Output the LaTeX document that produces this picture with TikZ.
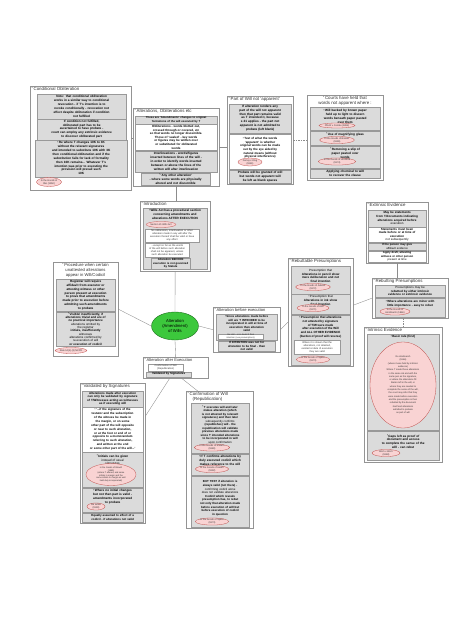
\documentclass[tikz,border=0pt]{standalone}
\usepackage{fontspec}
\setmainfont{Liberation Sans}
\usetikzlibrary{shapes.geometric}
\definecolor{pinkf}{HTML}{F9D3D3}
\definecolor{pinkd}{HTML}{C0504D}
\definecolor{grnf}{HTML}{3CC83C}
\definecolor{grnd}{HTML}{1E6E1E}
\newcommand{\ttlmark}{\raisebox{0.9pt}{\fontsize{3}{3}\selectfont *}\,}
\newcommand{\bmark}{\raisebox{0.5pt}{\fontsize{2.4}{2.4}\selectfont *}\,}
\begin{document}
\begin{tikzpicture}[x=1pt,y=-1pt,
  grp/.style={draw=black!42, fill=white, line width=0.35pt, anchor=north west, inner sep=0pt},
  ttl/.style={anchor=north west, inner sep=0pt, font=\fontsize{4.4}{5}\selectfont, text=black!80, align=left},
  gb/.style={draw=black!40, fill=black!14, line width=0.3pt, anchor=north west, inner sep=0.5pt, align=center, font=\fontsize{3.1}{3.9}\selectfont\bfseries},
  wb/.style={draw=black!40, fill=white, line width=0.3pt, anchor=north west, inner sep=0.5pt, align=center, font=\fontsize{2.5}{3}\selectfont, text=black!80},
  pe/.style={ellipse, draw=pinkd, fill=pinkf, line width=0.3pt, inner sep=0pt, align=center, font=\fontsize{2.4}{2.8}\selectfont, text=black!80},
  txt/.style={anchor=north, inner sep=0pt, align=center, font=\fontsize{3}{3.7}\selectfont\bfseries},
  cn/.style={draw=black!45, line width=0.35pt},
]
\useasboundingbox (0,0) rectangle (474,632);

% ---------- Conditional Obliteration
\node[grp, minimum width=101, minimum height=104] (CO) at (30,86) {};
\node[ttl] (COt) at (31.5,87.5) {\ttlmark Conditional Obliteration};
\node[gb, text width=88pt, minimum height=25] (CO1) at (37,93.5) {Note: that conditional obliteration\\works in a similar way to conditional\\revocation - if T's intention is to\\revoke conditionally - revocation not\\effect despite obliteration if condition\\not fulfilled};
\node[gb, text width=88pt, minimum height=21] (CO2) at (37,118.5) {If condition not fulfilled,\\obliterated part has to be\\ascertained to have probate -\\court can employ any extrinsic evidence\\to discover obliterated part};
\node[gb, text width=91pt, minimum height=37] (CO3) at (35,139.5) {\bmark Re where T changes 10K to 3K\\without the relevant signatures\\and intended to substitute 10K with 3K\\then conditional obliteration and if the\\substitution fails for lack of formality\\then 10K remains... Whatever T's\\intention was prior to executing the\\provision will prevail such\\10K};
\node[pe, minimum width=25, minimum height=9] (CO4) at (49,182) {In the Goods of\\Itter (1950)};

% ---------- Alterations, Obliterations etc
\node[grp, minimum width=86, minimum height=78] (AL) at (133,108) {};
\node[ttl] (ALt) at (134.5,109.5) {\ttlmark Alterations, Obliterations etc};
\node[gb, text width=81pt, minimum height=8, font=\fontsize{2.8}{3.4}\selectfont\bfseries] (AL1) at (135,115.5) {These are `Amendments' changes to original\\formations of the will executed by T};
\node[gb, fill=white, text width=81pt, minimum height=26, font=\fontsize{3}{3.6}\selectfont\bfseries] (AL2) at (135,124) {Obliterations - words blotted out,\\crossed through or covered, etc\\so that words no longer discernible.\\Those of `sealed' - key words\\or figures may be written over\\or substituted for obliterated\\words};
\node[gb, text width=81pt, minimum height=21] (AL3) at (135,151) {Interlineations - words/figures\\inserted between lines of the will -\\in order to identify words inserted\\between or above the lines of the\\written will after interlineation};
\node[gb, text width=68pt, minimum height=12] (AL4) at (141,173) {\bmark`Any other alteration'\\- where some words are physically\\altered and not discernible};

% ---------- Part of Will not apparent
\node[grp, minimum width=66, minimum height=88] (PW) at (227,96) {};
\node[ttl] (PWt) at (228.5,97.5) {\ttlmark Part of Will not `apparent'};
\node[gb, text width=61pt, minimum height=29] (PW1) at (229,103.5) {If alteration renders any\\part of the will not apparent\\then that part remains valid\\as T intended it, because\\s 21 applies - the part not\\apparent is not admitted to\\probate (left blank)};
\node[gb, fill=white, text width=61pt, minimum height=35, font=\fontsize{3}{3.6}\selectfont\bfseries] (PW2) at (229,133.5) {\bmark Test of what the words\\`apparent' is whether\\original words can be made\\out by the eye aided by\\natural means (without\\physical interference)\\~\\~};
\node[pe, minimum width=24, minimum height=8] (PW2e) at (250,162) {Ferrey v King\\(1861)};
\node[gb, text width=61pt, minimum height=13] (PW3) at (229,170) {Probate will be granted of will\\but words not apparent will\\be left as blank spaces};

% ---------- Courts have held
\node[grp, minimum width=76, minimum height=85] (CT) at (307,95) {};
\node[ttl, anchor=north, align=center] (CTt) at (345,96.5) {\ttlmark Courts have held that\\words not apparent where :};
\node[gb, text width=69pt, minimum height=23] (CT1) at (310,107) {\bmark Will backed by brown paper\\held up to light to discern\\words beneath paper pasted\\over them\\~};
\node[pe, minimum width=36, minimum height=5] (CT1e) at (337,125.5) {Ffinch v Combe (1894)};
\node[gb, text width=69pt, minimum height=14] (CT2) at (310,131) {\bmark Use of magnifying glass\\~\\~};
\node[pe, minimum width=34, minimum height=7] (CT2e) at (337,140) {In the Goods of Brasier\\(1899)};
\node[gb, text width=69pt, minimum height=22] (CT3) at (310,146) {\bmark Removing a slip of\\paper pasted over\\words\\~\\~};
\node[pe, minimum width=36, minimum height=7] (CT3e) at (337,161.5) {In the Goods of Horsford\\(1874)};
\node[gb, text width=69pt, minimum height=9] (CT4) at (310,169) {Applying chemical to will\\to recover the clause};

% ---------- Introduction
\node[grp, minimum width=70, minimum height=70] (IN) at (140,201) {};
\node[ttl] (INt) at (141.5,202.5) {\ttlmark Introduction};
\node[gb, text width=63pt, minimum height=61] (INb) at (143,208) {};
\node[txt, font=\fontsize{3.1}{3.9}\selectfont\bfseries] (IN1) at (175,209.5) {\bmark Wills Act has a procedural section\\concerning amendments and\\alterations AFTER EXECUTION};
\node[pe, minimum width=30, minimum height=6] (IN1e) at (161,224.5) {Section 21 Wills Act};
\node[wb, text width=53pt, minimum height=12.5] (IN2) at (145,229) {No obliteration, interlineation or other\\alteration made in any will after the\\execution thereof shall be valid or have\\any effect};
\node[wb, text width=43pt, minimum height=13.5] (IN3) at (145,243) {...except so far as the words\\of the will before such alteration\\shall not be apparent, unless\\such alteration be executed};
\node[gb, text width=38pt, minimum height=10.5, font=\fontsize{2.8}{3.2}\selectfont\bfseries] (IN4) at (151,258) {Alteration BEFORE\\execution is not governed\\by Statute};

% ---------- centre
\node[ellipse, draw=grnd, fill=grnf, line width=0.4pt, minimum width=47, minimum height=28, inner sep=0pt, align=center, font=\fontsize{4.2}{4.8}\selectfont] (CE) at (175,326) {Alteration\\(Amendment)\\of Wills};

% ---------- Procedure
\node[grp, minimum width=65, minimum height=94] (PR) at (53,262) {};
\node[ttl, anchor=north, align=center, font=\fontsize{4.2}{4.9}\selectfont] (PRt) at (85.5,263) {\ttlmark Procedure when certain\\unattested alterations\\appear in Will/Codicil};
\node[gb, text width=58pt, minimum height=32] (PR1) at (56,279) {Registrar will require\\affidavit from executor or\\attesting witness or other\\person present at execution\\to prove that amendments\\made prior to execution before\\admitting such amendments\\to probate};
\node[gb, text width=58pt, minimum height=34, font=\fontsize{3}{3.3}\selectfont\bfseries] (PR2) at (56,312) {\bmark Visible/ insufficiently, if\\alterations trivial and are of\\no practical importance\\{\mdseries alterations omitted by}\\{\mdseries the registrar}\\initials, insufficiently\\{\mdseries witnesses}\\{\mdseries alterations confirmed by}\\{\mdseries re-execution of will}\\or execution of codicil};
\node[pe, minimum width=28, minimum height=6] (PRe) at (71,350.5) {Rule 14(1)-(3) NCPR};

% ---------- Alteration before execution
\node[grp, minimum width=67, minimum height=45] (AB) at (213,307) {};
\node[ttl, font=\fontsize{4.1}{4.6}\selectfont] (ABt) at (214.5,308.5) {\ttlmark Alteration before execution};
\node[gb, text width=60pt, minimum height=26, font=\fontsize{2.9}{3.5}\selectfont\bfseries] (AB1) at (216,314) {\bmark Since alterations made before\\will are T INTENDED to be\\incorporated in will at time of\\execution then alteration\\valid\\~\\~};
\node[wb, text width=44pt, minimum height=5.5, font=\fontsize{2.2}{2.5}\selectfont] (AB1w) at (218,333.5) {Re Hall - or in doubt if final\\intention (see presumptions)};
\node[gb, text width=56pt, minimum height=10, font=\fontsize{2.9}{3.2}\selectfont\bfseries] (AB2) at (218,341) {If INTENTION was not for\\alteration to be final - then\\not valid};

% ---------- Alteration after Execution
\node[grp, minimum width=65, minimum height=21] (AA) at (143,357) {};
\node[ttl, font=\fontsize{4.1}{4.6}\selectfont] (AAt) at (144.5,358) {\ttlmark Alteration after Execution};
\node[wb, text width=34pt, minimum height=7, font=\fontsize{2.5}{2.9}\selectfont] (AA1) at (148,363.5) {Confirmation of Will\\(Republication)};
\node[gb, text width=44pt, minimum height=5, font=\fontsize{2.9}{3.2}\selectfont\bfseries] (AA2) at (146,371.5) {Validated by Signatures};

% ---------- Validated by Signatures
\node[grp, minimum width=65, minimum height=140] (VS) at (80,383) {};
\node[ttl] (VSt) at (81.5,384.5) {\ttlmark Validated by Signatures};
\node[gb, text width=60pt, minimum height=16, font=\fontsize{3}{3.6}\selectfont\bfseries] (VS1) at (82,390.5) {Alterations made after execution\\can only be validated by signature\\of T/Witnesses acting as witnesses\\as if executing will};
\node[gb, fill=white, text width=60pt, minimum height=44.5, font=\fontsize{3}{3.9}\selectfont\bfseries] (VS2) at (82,407) {\bmark`...if the signature of the\\testator and the subscription\\of the witness be made in\\the margin, or on some\\other part of the will opposite\\or near to such alteration,\\or at the foot or end of or\\opposite to a memorandum\\referring to such alteration,\\and written at the end\\or some other part of the will...'};
\node[gb, text width=60pt, minimum height=35] (VS3) at (82,452) {\bmark Initials can be given\\{\mdseries instead of usual}\\{\mdseries signatures}\\~\\~\\~\\~\\~};
\node[pe, minimum width=50, minimum height=22, font=\fontsize{2.2}{2.6}\selectfont] (VS3e) at (111,474.5) {In the Goods of Blewitt\\(1880)\\(where T altered, and same\\initials in margin and the\\same initials to margin as well\\held duly incorporated)};
\node[gb, text width=60pt, minimum height=24] (VS4) at (82,488) {\bmark Where no initial changes\\but not then part is valid -\\amendments incorporated\\to probate\\~\\~};
\node[pe, minimum width=18, minimum height=7] (VS4e) at (96,506.5) {Re White\\(1990)};
\node[gb, text width=60pt, minimum height=9, font=\fontsize{2.9}{3.5}\selectfont\bfseries] (VS5) at (82,513) {Equally assumed to effect of a\\codicil - if alterations not valid};

% ---------- Confirmation of Will
\node[grp, minimum width=67, minimum height=137] (CF) at (186,391) {};
\node[ttl, font=\fontsize{4.4}{4.9}\selectfont] (CFt) at (187.5,392.5) {\ttlmark Confirmation of Will\\\hspace*{5pt}(Republication)};
\node[gb, text width=57pt, minimum height=50, font=\fontsize{2.9}{3.5}\selectfont\bfseries] (CF1) at (191,403) {\bmark T executes will and later\\makes alteration (which\\is not attested by relevant\\signatures) and then later\\{\mdseries subsequently confirms}\\(republishes) will - the\\republication will validate\\previous alterations made\\since T intended alterations\\to be incorporated in will\\{\mdseries upon confirmation}\\~\\~};
\node[pe, minimum width=32, minimum height=7] (CF1e) at (212,447.5) {In the Goods of Shearn\\(1880)};
\node[gb, text width=57pt, minimum height=21] (CF2) at (191,454) {\bmark If T confirms alterations by\\duly executed codicil which\\makes reference to the will\\~\\~};
\node[pe, minimum width=32, minimum height=7] (CF2e) at (212,469) {In the Goods of Heath\\(1892)};
\node[gb, text width=57pt, minimum height=51, font=\fontsize{2.9}{3.6}\selectfont\bfseries] (CF3) at (191,476) {BUT TEST if alteration is\\always valid (not there) -\\{\mdseries confirming codicil alone}\\{\mdseries does not validate alterations}\\Codicil which reveals\\presumption has, to rebut\\not only that alteration made\\before execution of will but\\before execution of codicil\\in question\\~\\~};
\node[pe, minimum width=32, minimum height=7] (CF3e) at (212,521.5) {In the Goods of Sykes\\(1873)};

% ---------- Extrinsic Evidence
\node[grp, minimum width=62, minimum height=61] (EX) at (366,202) {};
\node[ttl] (EXt) at (367.5,203.5) {\ttlmark Extrinsic Evidence};
\node[gb, text width=57pt, minimum height=17, font=\fontsize{3}{3.7}\selectfont\bfseries] (EX1) at (368,209.5) {May be statements\\from T/documents indicating\\alterations acquired before\\{\mdseries execution}};
\node[gb, fill=white, text width=57pt, minimum height=15, font=\fontsize{3}{3.5}\selectfont\bfseries] (EX2) at (368,227) {Statements must been\\made before or at time of\\execution\\{\mdseries not subsequently}};
\node[gb, text width=57pt, minimum height=7.5, font=\fontsize{2.8}{3.2}\selectfont\bfseries] (EX3) at (368,242.5) {If the person may give\\{\mdseries affidavit evidence}};
\node[gb, fill=white, text width=57pt, minimum height=11.5, font=\fontsize{2.8}{3.3}\selectfont\bfseries] (EX4) at (368,250.5) {Apply draft, attesting\\witness or other person\\{\mdseries present at time}};

% ---------- Rebuttable Presumptions
\node[grp, minimum width=65, minimum height=108] (RB) at (288,258) {};
\node[ttl] (RBt) at (289.5,259.5) {\ttlmark Rebuttable Presumptions};
\node[gb, text width=58pt, minimum height=28, font=\fontsize{3}{3.7}\selectfont\bfseries] (RB1) at (291,265.5) {{\mdseries Presumption that}\\Alterations in pencil show\\mere deliberation and not\\final intention\\~\\~};
\node[pe, minimum width=32, minimum height=7] (RB1e) at (313,287) {In the Goods of Adams\\(1872)};
\node[gb, text width=58pt, minimum height=20, font=\fontsize{3}{3.7}\selectfont\bfseries] (RB2) at (291,294) {\bmark{\mdseries Presumption that}\\Alterations in ink show\\final intention\\~\\~};
\node[pe, minimum width=32, minimum height=7] (RB2e) at (313,308) {In the Goods of Hall\\(1871)};
\node[gb, text width=58pt, minimum height=50] (RB3) at (291,315) {};
\node[txt] (RB3t) at (320.5,316.5) {\bmark Presumption that alterations\\not attested by signature\\of T/W were made\\after execution of the Will\\and ALL OTHER EVIDENCE\\(burden of proof will reverse)};
\node[wb, text width=45pt, minimum height=13.5] (RB3w) at (294,340) {Where it is shown that the\\alterations, not attested,\\existed at date of execution\\they are valid};
\node[pe, minimum width=32, minimum height=7] (RB3e) at (313,359.5) {In the Goods of Sykes\\(1873)};

% ---------- Rebutting Presumptions
\node[grp, minimum width=76, minimum height=40] (RT) at (372,278) {};
\node[ttl] (RTt) at (373.5,279.5) {\ttlmark Rebutting Presumptions};
\node[gb, text width=69pt, minimum height=12, font=\fontsize{3}{3.6}\selectfont\bfseries] (RT1) at (375,285) {{\mdseries Presumptions may be}\\rebutted by either intrinsic\\evidence or extrinsic evidence};
\node[gb, text width=69pt, minimum height=19, font=\fontsize{3}{3.6}\selectfont\bfseries] (RT2) at (375,297.5) {\bmark Where alterations are minor with\\little importance - easy to rebut\\~\\~};
\node[pe, minimum width=30, minimum height=7] (RT2e) at (395,311.5) {In the Goods of\\Hindmarsh (1866)};

% ---------- Intrinsic Evidence
\node[grp, minimum width=78, minimum height=135] (IE) at (364,327) {};
\node[ttl] (IEt) at (365.5,328.5) {\ttlmark Intrinsic Evidence};
\node[gb, text width=71pt, minimum height=96] (IE1) at (367,334) {};
\node[txt] (IE1t) at (403,335.5) {\bmark Basic rule (first)};
\node[pe, minimum width=66, minimum height=86, inner sep=-2pt, font=\fontsize{2.3}{3.3}\selectfont] (IE1e) at (403,385) {Re Hindmarsh\\(1866)\\(where it was held by intrinsic\\evidence)\\Where T made those alterations\\in the same ink and with the\\same pen as the signature,\\or where the alterations fill\\blanks left in the will, or\\where they are needed to\\complete the sense of the will,\\the court may infer that they\\were made before execution\\and the presumption is then\\rebutted by the document\\itself and alterations\\admitted to probate\\as part of will};
\node[gb, text width=71pt, minimum height=29] (IE2) at (367,431) {\bmark Gaps left as proof of\\document and access\\to complete the sense of the\\will - can rebut\\~\\~};
\node[pe, minimum width=28, minimum height=7] (IE2e) at (386,453) {Birch v Birch\\(1848)};

% ---------- connectors
\draw[cn] (CO.east) -- (CO.east -| AL.west);
\draw[cn] (AL.east) -- (AL.east -| PW.west);
\draw[cn, dash pattern=on 1.5pt off 1pt] (PW.east) -- (PW.east -| CT.west);
\draw[cn] (AL.south) -- (AL.south |- IN.north);
\draw[cn] (IN.south) -- (CE.north);
\draw[cn] (PR.east) -- (CE.west);
\draw[cn] (CE.east) -- (AB.west);
\draw[cn] (CE.south) -- (AA.north);
\draw[cn] ([xshift=-6]AA.south) -- ([yshift=37]VS.east);
\draw[cn] ([xshift=6]AA.south) -- ([xshift=-22]CF.north);
\draw[cn] (AB.east) -- ([yshift=-10]RB.west);
\draw[cn] ([yshift=7]RB.east) -- (RT.west);
\draw[cn] (EX.south) -- (EX.south |- RT.north);
\draw[cn, dash pattern=on 1.5pt off 1pt] (IE.north |- RT.south) -- (IE.north);
\end{tikzpicture}
\end{document}
